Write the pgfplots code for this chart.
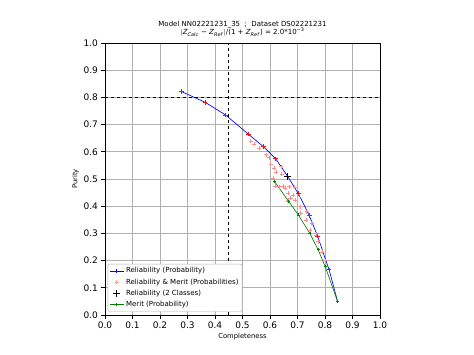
\documentclass[border=0pt]{standalone}
\usepackage{pgfplots}
\pgfplotsset{compat=1.18}
\usepackage{fontspec}
\setmainfont{DejaVu Sans}
\definecolor{mplgreen}{RGB}{0,128,0}
\definecolor{gridgray}{RGB}{176,176,176}
\definecolor{mplred}{RGB}{235,20,20}
\begin{document}
\begin{tikzpicture}[x=1pt,y=1pt]
\useasboundingbox (0,0) rectangle (474,355);
\begin{axis}[
  at={(105pt,40pt)}, anchor=south west,
  scale only axis, width=275pt, height=272pt,
  xmin=0, xmax=1, ymin=0, ymax=1,
  xtick={0,0.1,...,1.0}, ytick={0,0.1,...,1.0},
  xticklabel style={/pgf/number format/.cd,fixed,fixed zerofill,precision=1},
  yticklabel style={/pgf/number format/.cd,fixed,fixed zerofill,precision=1},
  /pgf/number format/assume math mode=true,
  ticklabel style={font=\fontsize{9}{10}\selectfont},
  tick pos=left, tick align=outside, major tick length=3.6pt,
  every tick/.style={black, line width=0.7pt},
  axis line style={line width=0.7pt},
  grid=major, grid style={gridgray, line width=0.6pt},
  xlabel={Completeness}, ylabel={Purity},
  label style={font=\fontsize{6.8}{7.5}\selectfont},
  xlabel style={yshift=2pt},
  ylabel style={yshift=-2pt},
  title={Model NN02221231\_35\ \ ;\ \ Dataset DS02221231\\[-1pt]
  $|$\textit{Z}\textsubscript{\textit{Calc}} − \textit{Z}\textsubscript{\textit{Ref}}$|$/(1 + \textit{Z}\textsubscript{\textit{Ref}}) = 2.0*10\textsuperscript{−3}},
  title style={align=center, font=\fontsize{7}{8}\selectfont, yshift=-3pt},
  legend style={at={(0.01,0.012)}, anchor=south west, font=\fontsize{7}{7.5}\selectfont,
    draw=gridgray, rounded corners=1.5pt, inner sep=1.5pt, row sep=0.4pt,
    cells={anchor=west}},
  legend cell align=left,
]
% vertical / horizontal reference lines
\addplot[black, dashed, line width=0.8pt, forget plot] coordinates {(0.45,0) (0.45,1)};
\addplot[black, dashed, line width=0.8pt, forget plot] coordinates {(0,0.8) (1,0.8)};

% Reliability (Probability)
\addplot[blue, line width=0.65pt, mark=none,
  legend image code/.code={\draw[blue, line width=0.65pt] (0pt,0pt) -- (14pt,0pt); \draw[blue, line width=0.8pt] (7pt,-1.6pt) -- (7pt,1.6pt);}] coordinates {
(0.279,0.821) (0.364,0.782) (0.439,0.735) (0.521,0.665) (0.576,0.619) (0.621,0.574)
(0.664,0.510) (0.703,0.446) (0.743,0.366) (0.773,0.290) (0.815,0.166) (0.846,0.049)};
\addlegendentry{Reliability (Probability)}

% Reliability & Merit (Probabilities) - cloud
\addplot[only marks, mark=+, mark size=2pt, mark options={draw=red!45, line width=0.7pt},
  legend image code/.code={\draw[red!40, line width=0.7pt] (7pt,-2pt) -- (7pt,2pt) (5pt,0pt) -- (9pt,0pt);}] coordinates {
(0.530,0.640) (0.542,0.629) (0.560,0.613) (0.585,0.590) (0.596,0.578) (0.603,0.554) (0.616,0.539) (0.622,0.525)
(0.612,0.503) (0.642,0.517) (0.634,0.472) (0.655,0.466) (0.670,0.472) (0.675,0.429)
(0.618,0.474) (0.648,0.474) (0.667,0.447) (0.685,0.441) (0.667,0.423) (0.691,0.423)
(0.709,0.398) (0.712,0.374) (0.733,0.380) (0.731,0.349) (0.752,0.337) (0.745,0.312)
(0.769,0.293) (0.776,0.270) (0.790,0.230) (0.800,0.200) (0.640,0.545) (0.690,0.470)};
\addlegendentry{Reliability \& Merit (Probabilities)}

% on-line overlapping points (appear saturated)
\addplot[only marks, mark=+, mark size=2.3pt, mark options={draw=mplred, line width=1pt}, forget plot] coordinates {
(0.279,0.821) (0.364,0.782) (0.439,0.735) (0.521,0.665) (0.576,0.619) (0.621,0.574)
(0.703,0.446) (0.743,0.366) (0.773,0.290) (0.815,0.166)};

% Reliability (2 Classes)
\addplot[only marks, mark=+, mark size=3.5pt, mark options={draw=black, line width=1pt},
  legend image code/.code={\draw[black, line width=1pt] (7pt,-3.5pt) -- (7pt,3.5pt) (3.5pt,0pt) -- (10.5pt,0pt);}] coordinates {(0.664,0.508)};
\addlegendentry{Reliability (2 Classes)}

% Merit (Probability)
\addplot[mplgreen, line width=0.65pt, mark=+, mark size=1.5pt, mark options={solid, draw=mplgreen, line width=0.6pt},
  legend image code/.code={\draw[mplgreen, line width=0.65pt] (0pt,0pt) -- (14pt,0pt); \draw[mplgreen, line width=0.8pt] (7pt,-1.6pt) -- (7pt,1.6pt);}] coordinates {
(0.617,0.490) (0.667,0.419) (0.703,0.368) (0.745,0.300) (0.775,0.240) (0.800,0.180) (0.846,0.049)};
\addlegendentry{Merit (Probability)}
\end{axis}
\end{tikzpicture}
\end{document}
